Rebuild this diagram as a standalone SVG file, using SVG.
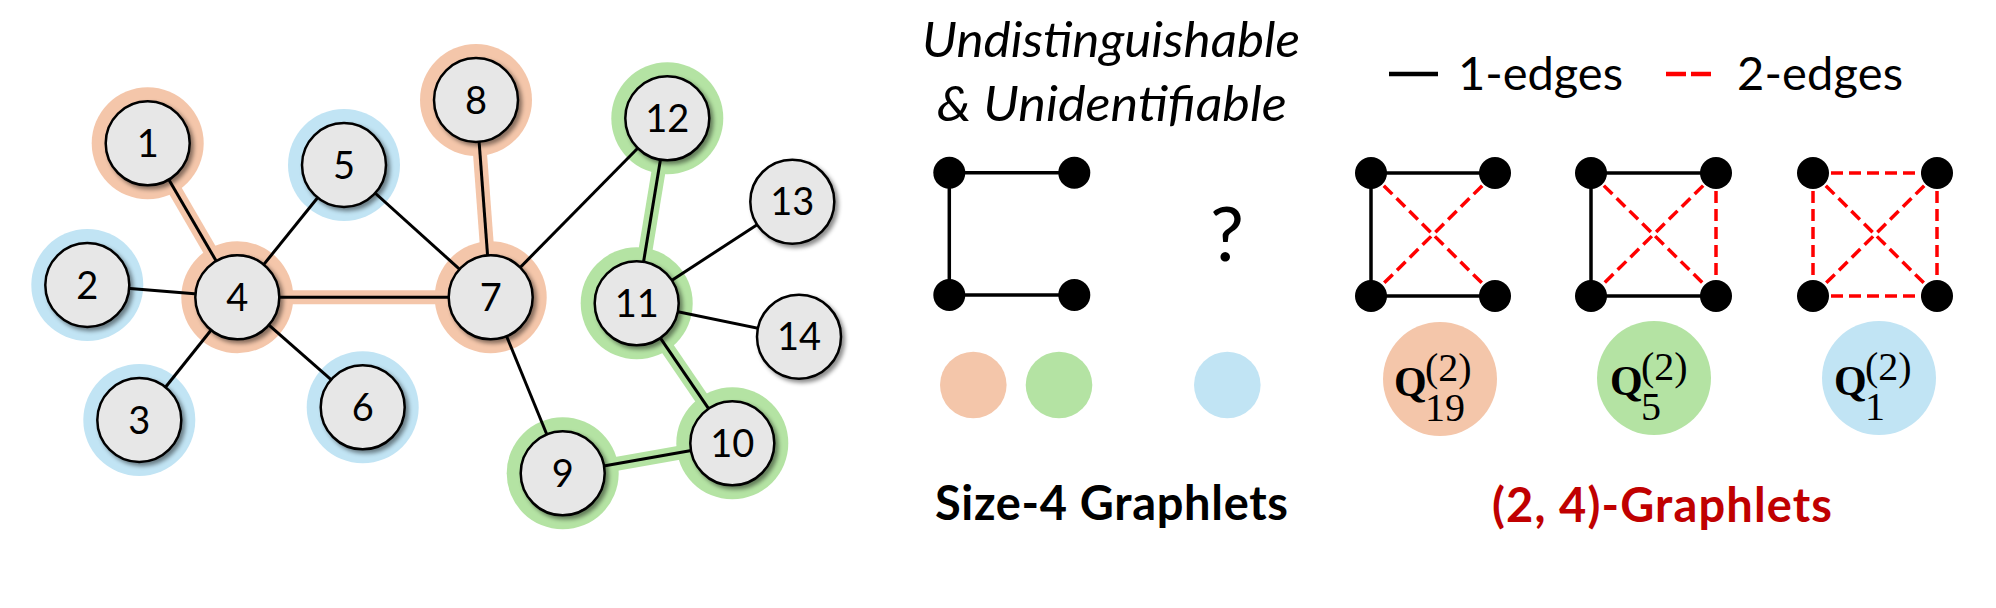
<svg xmlns="http://www.w3.org/2000/svg" width="1996" height="608" viewBox="0 0 1996 608">
<defs>
<filter id="sh" x="-30%" y="-30%" width="160%" height="160%">
<feDropShadow dx="3" dy="3" stdDeviation="2" flood-color="#000" flood-opacity="0.45"/>
</filter>
<style>
.node{fill:#e7e7e7;stroke:#000;stroke-width:2.5;filter:url(#sh)}
.lbl{font-family:Lato,"Open Sans",sans-serif;font-size:38px;text-anchor:middle;fill:#000}
.edge{stroke:#000;stroke-width:3;fill:none}
.ho{fill:#f4c6aa}.hg{fill:#b4e3a3}.hb{fill:#c1e4f4}
.bo{stroke:#f4c6aa;stroke-width:14}.bg{stroke:#b4e3a3;stroke-width:14}
.dot{fill:#000}
.e1{stroke:#000;stroke-width:3.5}
.e2{stroke:#ff0000;stroke-width:3.5;stroke-dasharray:12 6}
.q{font-family:"Liberation Serif",serif;font-size:40px;fill:#000}
.qb{font-weight:bold;font-size:42px}
.title{font-family:Lato,"Open Sans",sans-serif;font-weight:bold;font-size:47px;text-anchor:middle}
.it{font-family:Lato,"Open Sans",sans-serif;font-style:italic;font-size:48px;text-anchor:middle;fill:#000}
.leg{font-family:Lato,"Open Sans",sans-serif;font-size:47px;fill:#000}
</style>
</defs>
<rect width="1996" height="608" fill="#fff"/>

<g id="halos">
<line class="bo" x1="147.7" y1="143.3" x2="237.3" y2="297.3"/>
<line class="bo" x1="237.3" y1="297.3" x2="490.7" y2="297.3"/>
<line class="bo" x1="476" y1="100" x2="490.7" y2="297.3"/>
<line class="bg" x1="667.3" y1="118.3" x2="636.7" y2="303.3"/>
<line class="bg" x1="636.7" y1="303.3" x2="732.3" y2="443.3"/>
<line class="bg" x1="562.7" y1="473.3" x2="732.3" y2="443.3"/>
<circle class="ho" cx="147.7" cy="143.3" r="56"/>
<circle class="ho" cx="237.3" cy="297.3" r="56"/>
<circle class="ho" cx="490.7" cy="297.3" r="56"/>
<circle class="ho" cx="476" cy="100" r="56"/>
<circle class="hb" cx="87.3" cy="285" r="56"/>
<circle class="hb" cx="139.3" cy="420" r="56"/>
<circle class="hb" cx="344" cy="165" r="56"/>
<circle class="hb" cx="362.7" cy="407.3" r="56"/>
<circle class="hg" cx="667.3" cy="118.3" r="56"/>
<circle class="hg" cx="636.7" cy="303.3" r="56"/>
<circle class="hg" cx="732.3" cy="443.3" r="56"/>
<circle class="hg" cx="562.7" cy="473.3" r="56"/>
</g>

<g id="connectors">
<line class="edge" x1="147.7" y1="143.3" x2="237.3" y2="297.3"/>
<line class="edge" x1="87.3" y1="285" x2="237.3" y2="297.3"/>
<line class="edge" x1="139.3" y1="420" x2="237.3" y2="297.3"/>
<line class="edge" x1="344" y1="165" x2="237.3" y2="297.3"/>
<line class="edge" x1="362.7" y1="407.3" x2="237.3" y2="297.3"/>
<line class="edge" x1="237.3" y1="297.3" x2="490.7" y2="297.3"/>
<line class="edge" x1="344" y1="165" x2="490.7" y2="297.3"/>
<line class="edge" x1="476" y1="100" x2="490.7" y2="297.3"/>
<line class="edge" x1="667.3" y1="118.3" x2="490.7" y2="297.3"/>
<line class="edge" x1="562.7" y1="473.3" x2="490.7" y2="297.3"/>
<line class="edge" x1="667.3" y1="118.3" x2="636.7" y2="303.3"/>
<line class="edge" x1="792.3" y1="201.7" x2="636.7" y2="303.3"/>
<line class="edge" x1="799" y1="336.7" x2="636.7" y2="303.3"/>
<line class="edge" x1="732.3" y1="443.3" x2="636.7" y2="303.3"/>
<line class="edge" x1="562.7" y1="473.3" x2="732.3" y2="443.3"/>
</g>

<g id="n1"><circle class="node" cx="147.7" cy="143.3" r="42"/><text class="lbl" x="147.7" y="157">1</text></g>
<g id="n2"><circle class="node" cx="87.3" cy="285" r="42"/><text class="lbl" x="87.3" y="298.7">2</text></g>
<g id="n3"><circle class="node" cx="139.3" cy="420" r="42"/><text class="lbl" x="139.3" y="433.7">3</text></g>
<g id="n4"><circle class="node" cx="237.3" cy="297.3" r="42"/><text class="lbl" x="237.3" y="311">4</text></g>
<g id="n5"><circle class="node" cx="344" cy="165" r="42"/><text class="lbl" x="344" y="178.7">5</text></g>
<g id="n6"><circle class="node" cx="362.7" cy="407.3" r="42"/><text class="lbl" x="362.7" y="421">6</text></g>
<g id="n7"><circle class="node" cx="490.7" cy="297.3" r="42"/><text class="lbl" x="490.7" y="311">7</text></g>
<g id="n8"><circle class="node" cx="476" cy="100" r="42"/><text class="lbl" x="476" y="113.7">8</text></g>
<g id="n9"><circle class="node" cx="562.7" cy="473.3" r="42"/><text class="lbl" x="562.7" y="487">9</text></g>
<g id="n10"><circle class="node" cx="732.3" cy="443.3" r="42"/><text class="lbl" x="732.3" y="457">10</text></g>
<g id="n11"><circle class="node" cx="636.7" cy="303.3" r="42"/><text class="lbl" x="636.7" y="317">11</text></g>
<g id="n12"><circle class="node" cx="667.3" cy="118.3" r="42"/><text class="lbl" x="667.3" y="132">12</text></g>
<g id="n13"><circle class="node" cx="792.3" cy="201.7" r="42"/><text class="lbl" x="792.3" y="215.4">13</text></g>
<g id="n14"><circle class="node" cx="799" cy="336.7" r="42"/><text class="lbl" x="799" y="350.4">14</text></g>

<g id="size4">
<text class="it" x="1111" y="57" textLength="378" lengthAdjust="spacingAndGlyphs">Undistinguishable</text>
<text class="it" x="1111.7" y="121" textLength="350" lengthAdjust="spacingAndGlyphs">&amp; Unidentifiable</text>
<line class="e1" x1="949.3" y1="172.7" x2="1074.3" y2="172.7"/>
<line class="e1" x1="949.3" y1="172.7" x2="949.3" y2="295"/>
<line class="e1" x1="949.3" y1="295" x2="1074.3" y2="295"/>
<circle class="dot" cx="949.3" cy="172.7" r="16"/>
<circle class="dot" cx="1074.3" cy="172.7" r="16"/>
<circle class="dot" cx="949.3" cy="295" r="16"/>
<circle class="dot" cx="1074.3" cy="295" r="16"/>
<text x="1227" y="261" font-family="Lato, 'Open Sans', sans-serif" font-size="76" text-anchor="middle">?</text>
<circle class="ho" cx="973.3" cy="385" r="33.3"/>
<circle class="hg" cx="1059" cy="385" r="33.3"/>
<circle class="hb" cx="1227.3" cy="385" r="33.3"/>
<text class="title" x="1111.5" y="520" fill="#000" textLength="353">Size-4 Graphlets</text>
</g>

<g id="legend">
<line x1="1389" y1="74" x2="1438" y2="74" stroke="#000" stroke-width="4.5"/>
<text class="leg" x="1458" y="90" textLength="165">1-edges</text>
<line x1="1666" y1="74" x2="1714" y2="74" stroke="#ff0000" stroke-width="4.5" stroke-dasharray="20 5"/>
<text class="leg" x="1737" y="90" textLength="166">2-edges</text>
</g>

<g id="q19">
<line class="e1" x1="1371" y1="173" x2="1495" y2="173"/>
<line class="e1" x1="1371" y1="173" x2="1371" y2="296"/>
<line class="e1" x1="1371" y1="296" x2="1495" y2="296"/>
<line class="e2" x1="1371" y1="173" x2="1495" y2="296"/>
<line class="e2" x1="1495" y1="173" x2="1371" y2="296"/>
<circle class="dot" cx="1371" cy="173" r="16"/>
<circle class="dot" cx="1495" cy="173" r="16"/>
<circle class="dot" cx="1371" cy="296" r="16"/>
<circle class="dot" cx="1495" cy="296" r="16"/>
<circle class="ho" cx="1440" cy="379" r="57"/>
<text class="q"><tspan class="qb" x="1394" y="396">Q</tspan><tspan x="1425" y="381">(2)</tspan><tspan x="1425" y="421">19</tspan></text>
</g>

<g id="q5">
<line class="e1" x1="1591" y1="173" x2="1716" y2="173"/>
<line class="e1" x1="1591" y1="173" x2="1591" y2="296"/>
<line class="e1" x1="1591" y1="296" x2="1716" y2="296"/>
<line class="e2" x1="1591" y1="173" x2="1716" y2="296"/>
<line class="e2" x1="1716" y1="173" x2="1591" y2="296"/>
<line class="e2" x1="1716" y1="173" x2="1716" y2="296"/>
<circle class="dot" cx="1591" cy="173" r="16"/>
<circle class="dot" cx="1716" cy="173" r="16"/>
<circle class="dot" cx="1591" cy="296" r="16"/>
<circle class="dot" cx="1716" cy="296" r="16"/>
<circle class="hg" cx="1654" cy="378" r="57"/>
<text class="q"><tspan class="qb" x="1610" y="395">Q</tspan><tspan x="1641" y="380">(2)</tspan><tspan x="1641" y="420">5</tspan></text>
</g>

<g id="q1">
<line class="e2" x1="1813" y1="173" x2="1937" y2="173"/>
<line class="e2" x1="1813" y1="173" x2="1813" y2="296"/>
<line class="e2" x1="1813" y1="296" x2="1937" y2="296"/>
<line class="e2" x1="1937" y1="173" x2="1937" y2="296"/>
<line class="e2" x1="1813" y1="173" x2="1937" y2="296"/>
<line class="e2" x1="1937" y1="173" x2="1813" y2="296"/>
<circle class="dot" cx="1813" cy="173" r="16"/>
<circle class="dot" cx="1937" cy="173" r="16"/>
<circle class="dot" cx="1813" cy="296" r="16"/>
<circle class="dot" cx="1937" cy="296" r="16"/>
<circle class="hb" cx="1879" cy="378" r="57"/>
<text class="q"><tspan class="qb" x="1834" y="395">Q</tspan><tspan x="1865" y="380">(2)</tspan><tspan x="1865" y="420">1</tspan></text>
</g>

<text class="title" x="1662" y="521.7" fill="#c00000" textLength="340">(2, 4)-Graphlets</text>
</svg>
